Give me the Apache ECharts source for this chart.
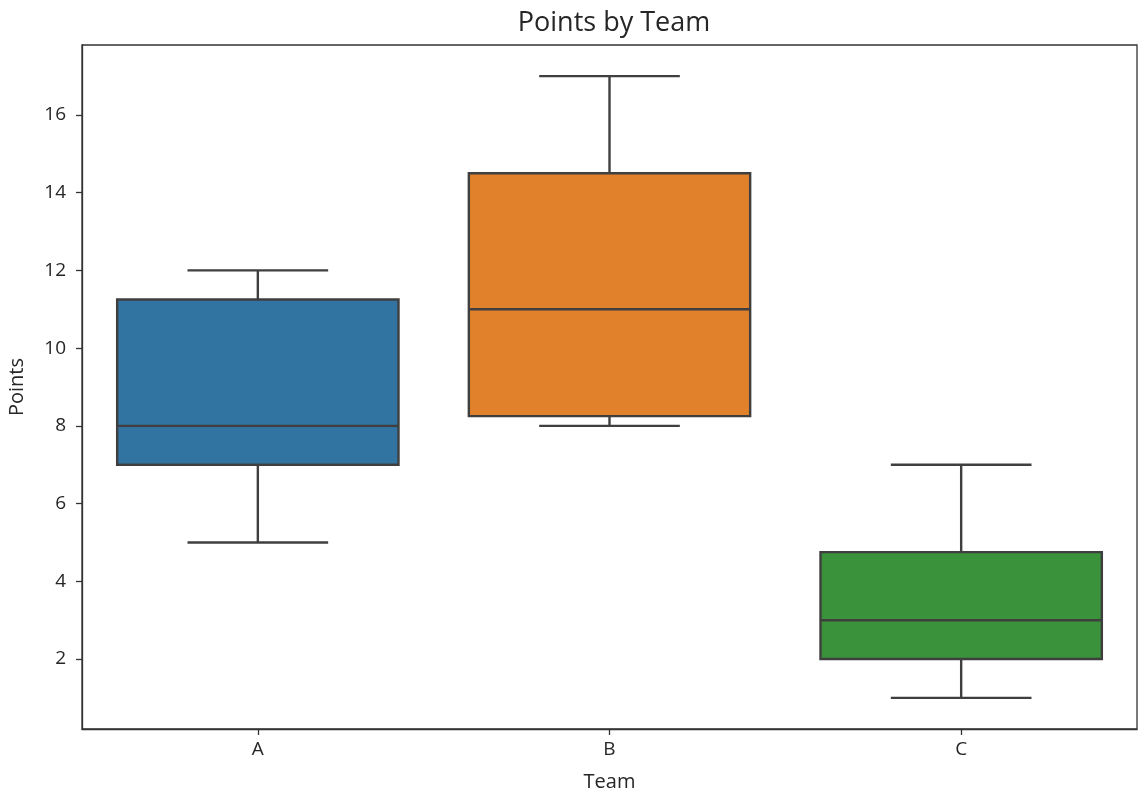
<!DOCTYPE html>
<html lang="en">
<head>
    <meta charset="UTF-8">
    <title>Points by Team</title>
    <style>
        html, body { margin: 0; padding: 0; background: #fff; }
        #chart { width: 1144px; height: 800px; }
    </style>
</head>
<body>
    <div id="chart"></div>
    <script src="https://cdn.jsdelivr.net/npm/echarts@6.0.0/dist/echarts.min.js"></script>
    <script>
        // data
        const teams = ['A', 'B', 'C'];
        const whiskerLow = [5, 8, 1];
        const q1 = [7, 8.25, 2];
        const median = [8, 11, 3];
        const q3 = [11.25, 14.5, 4.75];
        const whiskerHigh = [12, 17, 7];
        const yTicks = [2, 4, 6, 8, 10, 12, 14, 16];
        const boxColors = ['#3274a1', '#e1812c', '#3a923a'];

        const edge = '#3f3f3f';
        const font = 'Open Sans';

        const boxData = teams.map(function (t, i) {
            return [i, whiskerLow[i], q1[i], median[i], q3[i], whiskerHigh[i]];
        });

        function renderBox(params, api) {
            const i = api.value(0);
            const band = api.size([1, 0])[0];
            const lo = api.coord([i, api.value(1)]);
            const b1 = api.coord([i, api.value(2)]);
            const md = api.coord([i, api.value(3)]);
            const b3 = api.coord([i, api.value(4)]);
            const hi = api.coord([i, api.value(5)]);
            const x = md[0];
            const half = band * 0.4;
            const cap = band * 0.2;
            const ls = { stroke: edge, lineWidth: 2.4 };
            return {
                type: 'group',
                children: [
                    { type: 'line', shape: { x1: x, y1: b1[1], x2: x, y2: lo[1] }, style: ls },
                    { type: 'line', shape: { x1: x, y1: b3[1], x2: x, y2: hi[1] }, style: ls },
                    { type: 'line', shape: { x1: x - cap, y1: lo[1], x2: x + cap, y2: lo[1] }, style: ls },
                    { type: 'line', shape: { x1: x - cap, y1: hi[1], x2: x + cap, y2: hi[1] }, style: ls },
                    {
                        type: 'rect',
                        shape: { x: x - half, y: b3[1], width: half * 2, height: b1[1] - b3[1] },
                        style: { fill: boxColors[params.dataIndex], stroke: edge, lineWidth: 2.4 }
                    },
                    { type: 'line', shape: { x1: x - half, y1: md[1], x2: x + half, y2: md[1] }, style: ls }
                ]
            };
        }

        const chart = echarts.init(document.getElementById('chart'));
        chart.setOption({
            animation: false,
            backgroundColor: '#fff',
            title: {
                text: 'Points by Team',
                left: 609,
                top: 5,
                textAlign: 'center',
                textStyle: { fontFamily: font, fontSize: 27, fontWeight: 'normal', color: '#262626' }
            },
            grid: {
                left: 82, right: 7, top: 45, bottom: 71,
                outerBoundsMode: 'none',
                containLabel: false,
                show: true, borderColor: '#333', borderWidth: 1.3
            },
            xAxis: {
                type: 'category',
                data: teams,
                name: 'Team',
                nameLocation: 'middle',
                nameGap: 43,
                nameTextStyle: { fontFamily: font, fontSize: 20, color: '#262626' },
                axisLine: { show: true, lineStyle: { color: '#333', width: 1.3 } },
                axisTick: { show: true, alignWithLabel: true, length: 6, lineStyle: { color: '#333', width: 1.3 } },
                axisLabel: { fontFamily: font, fontSize: 19, color: '#262626', margin: 11 },
                splitLine: { show: false }
            },
            yAxis: {
                type: 'value',
                min: 0.2,
                max: 17.8,
                name: 'Points',
                nameLocation: 'middle',
                nameGap: 55,
                nameTextStyle: { fontFamily: font, fontSize: 20, color: '#262626' },
                axisLine: { show: true, lineStyle: { color: '#333', width: 1.3 } },
                axisTick: { show: true, length: 6, customValues: yTicks, lineStyle: { color: '#333', width: 1.3 } },
                axisLabel: { fontFamily: font, fontSize: 19, color: '#262626', margin: 16, customValues: yTicks },
                splitLine: { show: false }
            },
            series: [{
                type: 'custom',
                renderItem: renderBox,
                encode: { x: 0, y: [1, 2, 3, 4, 5] },
                data: boxData
            }]
        });
    </script>
</body>
</html>
